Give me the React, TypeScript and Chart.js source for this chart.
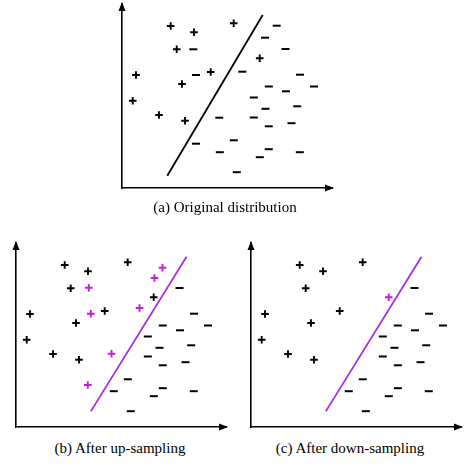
import React, { useEffect, useRef } from "react";
import { Chart, registerables } from "chart.js";

Chart.register(...registerables);

// Shared feature-space coordinates (axis units; origin at the axes' corner)
const plusPoints = [
  [48.7, 162], [72, 155.7], [111.7, 164.7], [54.7, 138.7], [137.7, 129.7],
  [14, 113], [88.7, 116], [60, 104], [10.7, 87.3], [37, 73], [63, 67.3],
];
const minusPoints = [
  [163.5, 139], [178, 113.3], [146.8, 101.5], [164, 96.7], [192, 101.5],
  [131.8, 90.5], [143.5, 79.2], [175.2, 81.7], [131.8, 70.5], [146.8, 61.7],
  [169.5, 64.8], [111.8, 47.7], [97.8, 35.8], [146.8, 38.8], [137.8, 30.8],
  [177.8, 35.8], [114.8, 15.8],
];
// extra points only in the original panel
const extraMinusOriginal = [
  [154.7, 162.3], [143, 150.3], [71.3, 138.7], [74, 113], [120.3, 116.3],
  [97.3, 70.3], [74, 44.3],
];
// synthetic points added by up-sampling (magenta)
const upsampledPlus = [
  [146.5, 159.3], [138.5, 149], [72.8, 139.3], [74.8, 113.3], [123.5, 119],
  [95.5, 73.3], [71.8, 42],
];
// index of the plus point highlighted after down-sampling
const downsampledKeptIndex = 4;

const boundaryOriginal = [[45.3, 12.3], [140.7, 173]];
const boundaryResampled = [[74.8, 15.6], [170.5, 170.3]];

const axisMaxX = 210;
const axisMaxY = 184;

const captions = ["(a) Original distribution", "(b) After up-sampling", "(c) After down-sampling"];

const MAGENTA = "#C41ED6";
const LINE_MAGENTA = "#A92BEA";

const toXY = (arr: number[][]) => arr.map(([x, y]) => ({ x, y }));

const arrowPlugin = {
  id: "arrows",
  afterDraw(chart: any) {
    const { ctx, chartArea } = chart;
    const { left, right, top, bottom } = chartArea;
    ctx.save();
    ctx.fillStyle = "#000";
    ctx.beginPath();
    ctx.moveTo(right + 2, bottom);
    ctx.lineTo(right - 7, bottom - 3.5);
    ctx.lineTo(right - 7, bottom + 3.5);
    ctx.closePath();
    ctx.fill();
    ctx.beginPath();
    ctx.moveTo(left, top - 2);
    ctx.lineTo(left - 3.5, top + 7);
    ctx.lineTo(left + 3.5, top + 7);
    ctx.closePath();
    ctx.fill();
    ctx.restore();
  },
};

const PAD = { left: 10, right: 12, top: 6, bottom: 10 };

function Panel({ which, originX, originY }: { which: number; originX: number; originY: number }) {
  const ref = useRef<HTMLCanvasElement | null>(null);
  useEffect(() => {
    if (!ref.current) return;
    const plusBlack = which === 2
      ? plusPoints.filter((_, i) => i !== downsampledKeptIndex)
      : plusPoints;
    const minus = which === 0 ? minusPoints.concat(extraMinusOriginal) : minusPoints;
    const magentaPlus = which === 1 ? upsampledPlus : which === 2 ? [plusPoints[downsampledKeptIndex]] : [];
    const boundary = which === 0 ? boundaryOriginal : boundaryResampled;
    const lineColor = which === 0 ? "#000" : LINE_MAGENTA;

    const chart = new Chart(ref.current, {
      type: "scatter",
      data: {
        datasets: [
          {
            type: "line",
            data: toXY(boundary),
            borderColor: lineColor,
            borderWidth: 1.8,
            pointRadius: 0,
            fill: false,
          } as any,
          {
            data: toXY(plusBlack),
            pointStyle: "cross",
            pointRadius: 3.8,
            borderColor: "#000",
            borderWidth: 1.9,
          },
          {
            data: toXY(magentaPlus),
            pointStyle: "cross",
            pointRadius: 3.8,
            borderColor: MAGENTA,
            borderWidth: 1.9,
          },
          {
            data: toXY(minus),
            pointStyle: "line",
            pointRadius: 4,
            borderColor: "#000",
            borderWidth: 2,
          },
        ],
      },
      options: {
        animation: false,
        responsive: false,
        maintainAspectRatio: false,
        layout: { padding: PAD, autoPadding: false } as any,
        plugins: { legend: { display: false }, tooltip: { enabled: false }, title: { display: false } },
        events: [],
        scales: {
          x: {
            type: "linear",
            min: 0,
            max: axisMaxX,
            ticks: { display: false },
            grid: { display: false, drawTicks: false },
            border: { display: true, color: "#000", width: 1.6 },
          },
          y: {
            type: "linear",
            min: 0,
            max: axisMaxY,
            ticks: { display: false },
            grid: { display: false, drawTicks: false },
            border: { display: true, color: "#000", width: 1.6 },
          },
        },
      },
      plugins: [arrowPlugin],
    });
    return () => chart.destroy();
  }, [which]);

  const w = PAD.left + axisMaxX + PAD.right;
  const h = PAD.top + axisMaxY + PAD.bottom;
  return (
    <canvas
      ref={ref}
      width={w}
      height={h}
      style={{
        position: "absolute",
        left: originX - PAD.left,
        top: originY - axisMaxY - PAD.top,
        width: w,
        height: h,
      }}
    />
  );
}

const captionStyle = (cx: number, cy: number): React.CSSProperties => ({
  position: "absolute",
  left: cx - 120,
  width: 240,
  top: cy - 10,
  textAlign: "center",
  fontFamily: "'Liberation Serif', 'Times New Roman', serif",
  fontSize: 15,
  lineHeight: "20px",
  color: "#000",
  whiteSpace: "nowrap",
});

export default function App() {
  return (
    <div style={{ position: "absolute", left: 0, top: 0, width: 474, height: 474, background: "#fff", overflow: "hidden" }}>
      <Panel which={0} originX={122} originY={188} />
      <Panel which={1} originX={16} originY={427} />
      <Panel which={2} originX={251} originY={427} />
      <div style={captionStyle(225, 207)}>{captions[0]}</div>
      <div style={captionStyle(120, 448)}>{captions[1]}</div>
      <div style={captionStyle(350, 448)}>{captions[2]}</div>
    </div>
  );
}
